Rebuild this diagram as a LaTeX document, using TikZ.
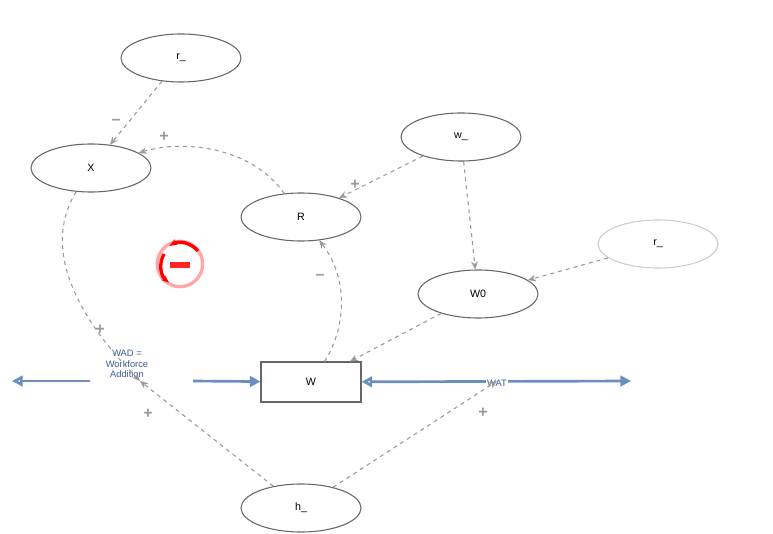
\documentclass[tikz,border=0pt]{standalone}
\usepackage{fontspec}
\setmainfont{Liberation Sans}
\usetikzlibrary{arrows.meta,shapes.geometric}
\definecolor{flowc}{HTML}{6C8EBF}
\definecolor{labc}{HTML}{3B5998}
\begin{document}
\begin{tikzpicture}[x=0.75pt,y=-0.75pt,
 var/.style={draw=black!60,line width=0.8pt,ellipse,minimum width=90pt,minimum height=36pt,inner sep=0pt,font=\footnotesize},
 link/.style={draw=black!40,dashed,line width=0.8pt,-{Stealth[length=6pt,width=5pt]}},
 flow/.style={draw=flowc,line width=2pt},
 pol/.style={text=black!40,font=\bfseries\large}]
\useasboundingbox (0,0) rectangle (773,534);
\node[var] (r1) at (181,58) {r\_};
\node[var] (X) at (91,168) {X};
\node[var] (w) at (461,137) {w\_};
\node[var] (R) at (301,217) {R};
\node[var,draw=black!20] (r2) at (658,244) {r\_};
\node[var] (W0) at (478,294) {W0};
\node[draw=black!60,line width=0.8pt,minimum width=75pt,minimum height=30pt,font=\footnotesize] (W) at (311,382) {W};
\node[var] (h) at (301,508) {h\_};
\coordinate (L) at (12,381);
\coordinate (Ra) at (631,381);
\coordinate (v1) at (140,381);
\coordinate (v2) at (497,381);
\draw[flow,-{Triangle[open,length=8pt,width=8pt]}] (90,381) -- (L);
\draw[flow,-{Triangle[length=8pt,width=8pt]}] (193,381) -- (W);
\draw[flow,{Triangle[open,length=8pt,width=8pt]}-{Triangle[length=8pt,width=8pt]}] (W) -- (Ra);
\node[font=\scriptsize,text=labc,align=center,inner sep=0pt] (wad) at (127,364) {WAD =\\Workforce\\Addition};
\node[font=\scriptsize,text=labc,fill=white,inner sep=1pt] (wat) at (497,383) {WAT};
\draw[link] (r1) -- (X);
\draw[link] (R) .. controls (250,145) and (180,140) .. (X);
\draw[link] (w) -- (R);
\draw[link] (w) -- (W0);
\draw[link] (r2) -- (W0);
\draw[link] (W0) -- (W);
\draw[link] (W) .. controls (345,330) and (350,280) .. (R);
\draw[link] (X) .. controls (40,250) and (80,320) .. (v1);
\draw[link] (h) -- (v1);
\draw[link] (h) -- (v2);
\node[pol] (p1) at (116,122) {--};
\node[pol] (p2) at (164,137) {+};
\node[pol] (p3) at (355,185) {+};
\node[pol] (p4) at (320,277) {--};
\node[pol] (p5) at (100,330) {+};
\node[pol] (p6) at (148,414) {+};
\node[pol] (p7) at (483,413) {+};
\draw[red!35,line width=2.5pt] (180,264) circle (17pt);
\draw[red,line width=2.5pt,-{Stealth[length=6pt]}] (198,251) arc (40:120:17pt);
\draw[red,line width=2.5pt,-{Stealth[length=6pt]}] (164,254) arc (150:230:17pt);
\node[fill=red!85,minimum width=15pt,minimum height=4pt,inner sep=0pt] (loop) at (180,265) {};
\end{tikzpicture}
\end{document}
